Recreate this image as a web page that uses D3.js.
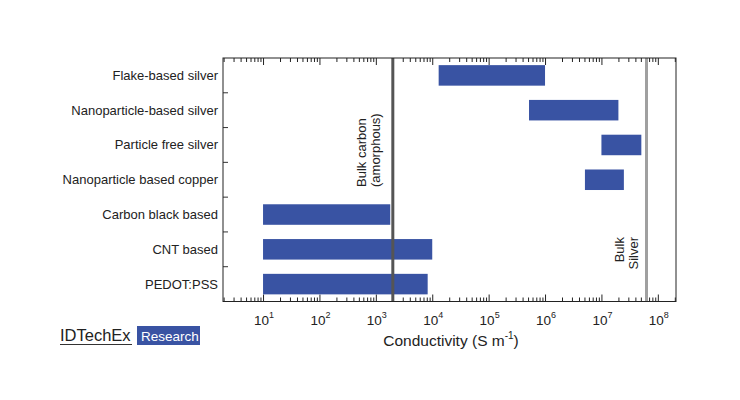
<!DOCTYPE html>
<html>
<head>
<meta charset="utf-8">
<script src="https://cdn.jsdelivr.net/npm/d3@7"></script>
<style>
  body { margin: 0; background: #fff; }
  text { font-family: "Liberation Sans", Arial, sans-serif; }
</style>
</head>
<body>
<script>
// Data (conductivity ranges, S/m)
var categories = ["Flake-based silver", "Nanoparticle-based silver", "Particle free silver",
  "Nanoparticle based copper", "Carbon black based", "CNT based", "PEDOT:PSS"];
var lowValues  = [1.3e4, 5.2e5, 1.0e7, 5.1e6, 10, 10, 10];
var highValues = [1.0e6, 2.0e7, 5.1e7, 2.5e7, 1.8e3, 1.0e4, 8.3e3];
var refValues = [2000, 6.3e7];                         // bulk carbon, bulk silver
var refLabels = [["Bulk carbon", "(amorphous)"], ["Bulk", "Silver"]];
var decadeExps = [1, 2, 3, 4, 5, 6, 7, 8];

var width = 740, height = 400;
var plotLeft = 223, plotRight = 676, plotTop = 58, plotBottom = 301.5;
var barColor = "#3953a3";

var svg = d3.select("body").append("svg")
  .attr("width", width)
  .attr("height", height);

var x = d3.scaleLog()
  .domain([1.95, 2.1e8])
  .range([plotLeft, plotRight]);

var y = d3.scaleBand()
  .domain(categories)
  .range([plotTop, plotBottom])
  .paddingInner(0.41)
  .paddingOuter(0.205);

// ticks: majors at powers of ten, minors at 2..9
var allTicks = x.ticks().filter(function (d) { return x(d) > plotLeft + 0.5 && x(d) < plotRight - 0.5; });
var majors = allTicks.filter(function (d) { return Math.abs(Math.log10(d) - Math.round(Math.log10(d))) < 1e-9; });
var minors = allTicks.filter(function (d) { return majors.indexOf(d) < 0; });

function tickGroup(axisFn, vals, size, yPos) {
  svg.append("g")
    .attr("transform", "translate(0," + yPos + ")")
    .call(axisFn(x).tickValues(vals).tickSize(size).tickFormat(""))
    .call(function (g) { g.select(".domain").remove(); })
    .selectAll("line").attr("stroke", "#222");
}
tickGroup(d3.axisBottom, minors, -4, plotBottom);
tickGroup(d3.axisBottom, majors, -7, plotBottom);
tickGroup(d3.axisTop, minors, -4, plotTop);
tickGroup(d3.axisTop, majors, -7, plotTop);

// bars
svg.append("g").selectAll("rect")
  .data(categories)
  .enter().append("rect")
  .attr("x", function (d, i) { return x(lowValues[i]); })
  .attr("y", function (d) { return y(d); })
  .attr("width", function (d, i) { return x(highValues[i]) - x(lowValues[i]); })
  .attr("height", y.bandwidth())
  .attr("fill", barColor);

// reference lines
var refColors = ["#555", "#a0a0a0"];
svg.append("g").selectAll("line")
  .data(refValues)
  .enter().append("line")
  .attr("x1", function (d) { return x(d); })
  .attr("x2", function (d) { return x(d); })
  .attr("y1", plotTop)
  .attr("y2", plotBottom)
  .attr("stroke", function (d, i) { return refColors[i]; })
  .attr("stroke-width", 3);

// reference labels (rotated)
var carbonLab = svg.append("text")
  .attr("transform", "translate(" + (x(refValues[0]) - 27) + ",187) rotate(-90)")
  .attr("font-size", 13).attr("fill", "#222");
carbonLab.append("tspan").attr("x", 0).attr("y", 0).text(refLabels[0][0]);
carbonLab.append("tspan").attr("x", 0).attr("y", 14).text(refLabels[0][1]);

var silverLab = svg.append("text")
  .attr("transform", "translate(" + (x(refValues[1]) - 23) + ",237) rotate(-90)")
  .attr("font-size", 13).attr("fill", "#222")
  .attr("text-anchor", "end");
silverLab.append("tspan").attr("x", 0).attr("y", 0).text(refLabels[1][0]);
silverLab.append("tspan").attr("x", 0).attr("y", 14).text(refLabels[1][1]);

// category boundary ticks on left axis
var step = y.step();
svg.append("g").selectAll("line")
  .data(d3.range(1, categories.length))
  .enter().append("line")
  .attr("x1", plotLeft).attr("x2", plotLeft + 5)
  .attr("y1", function (k) { return plotTop + k * step; })
  .attr("y2", function (k) { return plotTop + k * step; })
  .attr("stroke", "#333");

// frame
svg.append("rect")
  .attr("x", plotLeft).attr("y", plotTop)
  .attr("width", plotRight - plotLeft).attr("height", plotBottom - plotTop)
  .attr("fill", "none").attr("stroke", "#222").attr("stroke-width", 1);

// category labels
svg.append("g").selectAll("text")
  .data(categories)
  .enter().append("text")
  .attr("x", plotLeft - 5)
  .attr("y", function (d) { return y(d) + y.bandwidth() / 2 + 4.5; })
  .attr("text-anchor", "end")
  .attr("font-size", 13)
  .attr("fill", "#222")
  .text(function (d) { return d; });

// x tick labels 10^n
var tl = svg.append("g").selectAll("text")
  .data(decadeExps)
  .enter().append("text")
  .attr("x", function (e) { return x(Math.pow(10, e)) + 1; })
  .attr("y", 325)
  .attr("text-anchor", "middle")
  .attr("font-size", 13.5)
  .attr("fill", "#222");
tl.append("tspan").text("10");
tl.append("tspan").attr("dy", -7).attr("font-size", 9).text(function (e) { return e; });

// axis title
var title = svg.append("text")
  .attr("x", 451).attr("y", 346)
  .attr("text-anchor", "middle")
  .attr("font-size", 15.5)
  .attr("fill", "#222");
title.append("tspan").text("Conductivity (S m");
title.append("tspan").attr("dy", -7).attr("font-size", 10).text("-1");
title.append("tspan").attr("dy", 7).text(")");

// logo
svg.append("text")
  .attr("x", 60).attr("y", 341)
  .attr("font-size", 16.5).attr("fill", "#222")
  .text("IDTechEx");
svg.append("line")
  .attr("x1", 60).attr("x2", 132)
  .attr("y1", 344.5).attr("y2", 344.5)
  .attr("stroke", "#333").attr("stroke-width", 1);
svg.append("rect")
  .attr("x", 137).attr("y", 326)
  .attr("width", 63).attr("height", 19)
  .attr("fill", barColor);
svg.append("text")
  .attr("x", 141).attr("y", 340.5)
  .attr("font-size", 13.5).attr("fill", "#fff")
  .text("Research");
</script>
</body>
</html>
